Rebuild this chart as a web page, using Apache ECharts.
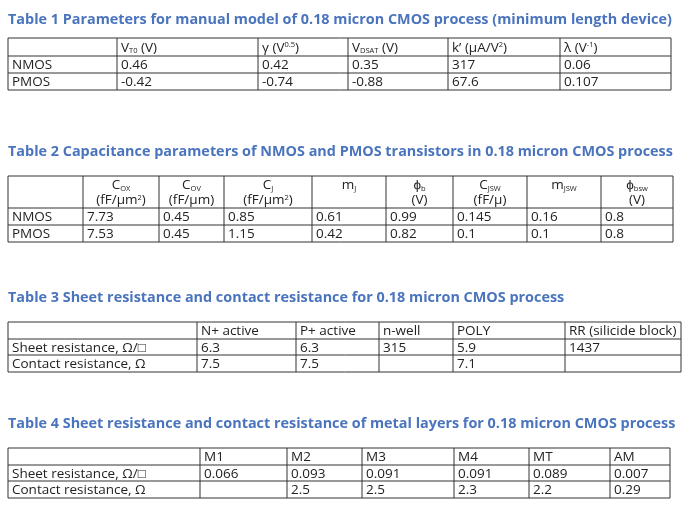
<!DOCTYPE html>
<html>
<head>
<meta charset="utf-8">
<script src="https://cdn.jsdelivr.net/npm/echarts@6/dist/echarts.min.js"></script>
<style>
  html, body { margin: 0; padding: 0; background: #fff; }
  #main { width: 700px; height: 532px; }
</style>
</head>
<body>
<div id="main"></div>
<script>
// ---- table data ----
const t1Title = 'Table 1 Parameters for manual model of 0.18 micron CMOS process (minimum length device)';
const t1Header = ['', 'V{sub|T0} (V)', 'γ (V{sup|0.5})', 'V{sub|DSAT} (V)', 'k’ (μA/V{sup|2})', 'λ (V{sup|-1})'];
const t1Rows = [
  ['NMOS', '0.46', '0.42', '0.35', '317', '0.06'],
  ['PMOS', '-0.42', '-0.74', '-0.88', '67.6', '0.107']
];

const t2Title = 'Table 2 Capacitance parameters of NMOS and PMOS transistors in 0.18 micron CMOS process';
const t2Header = ['', 'C{sub|OX}\n(fF/μm{sup|2})', 'C{sub|OV}\n(fF/μm)', 'C{sub|J}\n(fF/μm{sup|2})', 'm{sub|J}\n ',
  'ϕ{sub|b}\n(V)', 'C{sub|JSW}\n(fF/μ)', 'm{sub|JSW}\n ', 'ϕ{sub|bsw}\n(V)'];
const t2Rows = [
  ['NMOS', '7.73', '0.45', '0.85', '0.61', '0.99', '0.145', '0.16', '0.8'],
  ['PMOS', '7.53', '0.45', '1.15', '0.42', '0.82', '0.1', '0.1', '0.8']
];

const t3Title = 'Table 3 Sheet resistance and contact resistance for 0.18 micron CMOS process';
const t3Header = ['', 'N+ active', 'P+ active', 'n-well', 'POLY', 'RR (silicide block)'];
const t3Rows = [
  ['Sheet resistance, Ω/□', '6.3', '6.3', '315', '5.9', '1437'],
  ['Contact resistance, Ω', '7.5', '7.5', '', '7.1', '']
];

const t4Title = 'Table 4 Sheet resistance and contact resistance of metal layers for 0.18 micron CMOS process';
const t4Header = ['', 'M1', 'M2', 'M3', 'M4', 'MT', 'AM'];
const t4Rows = [
  ['Sheet resistance, Ω/□', '0.066', '0.093', '0.091', '0.091', '0.089', '0.007'],
  ['Contact resistance, Ω', '', '2.5', '2.5', '2.3', '2.2', '0.29']
];

// ---- layout ----
const FONT = '"Liberation Sans Narrow", "Open Sans", sans-serif';
const TITLE_FONT = '"Open Sans", "Liberation Sans", sans-serif';
const rich = {
  sub: { fontSize: 7.5, padding: [6, 0, 0, 0], fontFamily: FONT, fill: '#222' },
  sup: { fontSize: 7.5, padding: [0, 0, 6, 0], fontFamily: FONT, fill: '#222' }
};

const tables = [
  { title: t1Title, titleY: 20, header: t1Header, rows: t1Rows, center: false,
    cols: [8, 117, 258, 348, 448, 560, 671], rowsY: [38, 56, 73, 90] },
  { title: t2Title, titleY: 152, header: t2Header, rows: t2Rows, center: true,
    cols: [8, 83, 159, 224, 312, 386, 453, 527, 601, 673], rowsY: [176, 208, 225, 242] },
  { title: t3Title, titleY: 298, header: t3Header, rows: t3Rows, center: false,
    cols: [8, 197, 296, 379, 453, 565, 681], rowsY: [322, 339, 355, 372] },
  { title: t4Title, titleY: 424, header: t4Header, rows: t4Rows, center: false,
    cols: [8, 200, 287, 362, 454, 529, 610, 670], rowsY: [448, 465, 481, 498] }
];

const elements = [];
tables.forEach(t => {
  elements.push({
    type: 'text', x: 8, y: t.titleY, style: {
      text: t.title, fill: '#4a74bd', font: 'bold 14.4px ' + TITLE_FONT,
      verticalAlign: 'middle'
    }
  });
  const x0 = t.cols[0], x1 = t.cols[t.cols.length - 1];
  t.rowsY.forEach(y => elements.push({
    type: 'line', shape: { x1: x0, y1: y, x2: x1, y2: y },
    style: { stroke: '#333', lineWidth: 1 }
  }));
  const y0 = t.rowsY[0], y1 = t.rowsY[t.rowsY.length - 1];
  t.cols.forEach(x => elements.push({
    type: 'line', shape: { x1: x, y1: y0, x2: x, y2: y1 },
    style: { stroke: '#333', lineWidth: 1 }
  }));
  const allRows = [t.header].concat(t.rows);
  allRows.forEach((row, r) => {
    const ym = (t.rowsY[r] + t.rowsY[r + 1]) / 2;
    row.forEach((cell, c) => {
      if (!cell) return;
      const centered = t.center && r === 0;
      const x = centered ? (t.cols[c] + t.cols[c + 1]) / 2 : t.cols[c] + 4;
      elements.push({
        type: 'text', x: x, y: ym + 1, style: {
          text: cell, rich: rich, fill: '#222',
          font: '13.5px ' + FONT, lineHeight: 15,
          align: centered ? 'center' : 'left', verticalAlign: 'middle'
        }
      });
    });
  });
});

const chart = echarts.init(document.getElementById('main'));
chart.setOption({ animation: false, graphic: { elements: elements } });
</script>
</body>
</html>
